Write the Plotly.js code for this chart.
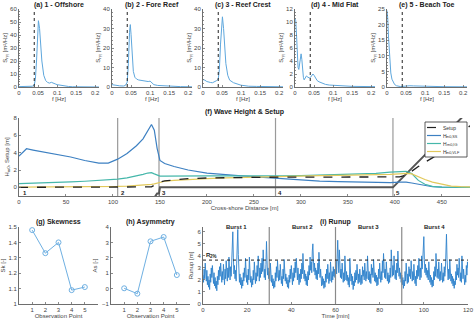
<!DOCTYPE html>
<html>
<head>
<meta charset="utf-8">
<script src="https://cdn.plot.ly/plotly-3.0.1.min.js"></script>
<style>
  html, body { margin: 0; padding: 0; background: #fff; }
  #chart { width: 474px; height: 321px; }
</style>
</head>
<body>
<div id="chart"></div>
<script>
// ---------- Wave energy spectra at the five observation points ----------
const specTitles = ['(a) 1 - Offshore', '(b) 2 - Fore Reef', '(c) 3 - Reef Crest', '(d) 4 - Mid Flat', '(e) 5 - Beach Toe'];
const igCutoff = 0.04; // SS / IG separation frequency [Hz]

const freqA = [0, 0.01, 0.02, 0.03, 0.035, 0.04, 0.043, 0.046, 0.049, 0.051, 0.054, 0.057, 0.06, 0.065, 0.07, 0.075, 0.08, 0.085, 0.09, 0.095, 0.1, 0.105, 0.11, 0.12, 0.13, 0.14, 0.16, 0.18, 0.2, 0.21];
const specA = [0.3, 0.3, 0.3, 0.4, 0.6, 1.5, 6, 20, 42, 51, 45, 32, 20, 9, 5, 3.5, 3, 3.6, 3.2, 2.4, 1.8, 1.5, 1.2, 0.8, 0.4, 0.2, 0.1, 0.05, 0.03, 0.02];

const freqB = [0, 0.005, 0.01, 0.02, 0.03, 0.035, 0.04, 0.043, 0.046, 0.048, 0.05, 0.053, 0.056, 0.06, 0.065, 0.07, 0.08, 0.09, 0.095, 0.1, 0.105, 0.11, 0.12, 0.14, 0.16, 0.18, 0.21];
const specB = [1.2, 1.0, 0.8, 0.6, 0.5, 0.8, 2.5, 12, 28, 32, 27, 15, 8, 5, 4, 3.6, 3.2, 2.7, 2.8, 3.0, 2.2, 1.2, 0.8, 0.5, 0.3, 0.2, 0.1];

const freqC = [0, 0.005, 0.01, 0.015, 0.02, 0.025, 0.03, 0.035, 0.04, 0.043, 0.046, 0.049, 0.051, 0.054, 0.057, 0.06, 0.065, 0.07, 0.08, 0.09, 0.1, 0.105, 0.11, 0.12, 0.14, 0.16, 0.18, 0.21];
const specC = [3.8, 3.5, 2.8, 2.4, 2.3, 2.2, 2.6, 3.2, 4, 9, 22, 33, 36, 30, 20, 12, 6, 3.5, 2.2, 1.4, 0.9, 0.8, 0.6, 0.4, 0.3, 0.2, 0.15, 0.1];

const freqD = [0, 0.002, 0.004, 0.006, 0.008, 0.01, 0.012, 0.014, 0.016, 0.018, 0.02, 0.022, 0.024, 0.027, 0.03, 0.034, 0.038, 0.041, 0.044, 0.047, 0.05, 0.054, 0.058, 0.063, 0.07, 0.08, 0.09, 0.1, 0.12, 0.15, 0.21];
const specD = [10.5, 10.2, 8, 5, 3, 2.7, 3.5, 4.6, 5.1, 4.2, 2.6, 1.5, 1.1, 1.4, 1.7, 1.5, 1.4, 1.5, 1.8, 2.0, 1.8, 1.3, 1.0, 0.8, 0.6, 0.4, 0.3, 0.25, 0.15, 0.1, 0.05];

const freqE = [0, 0.002, 0.004, 0.006, 0.008, 0.01, 0.013, 0.016, 0.02, 0.025, 0.03, 0.035, 0.04, 0.05, 0.06, 0.07, 0.08, 0.1, 0.12, 0.15, 0.21];
const specE = [24.5, 22, 16, 11, 7, 4.5, 2.5, 1.5, 0.8, 0.4, 0.2, 0.15, 0.2, 0.35, 0.4, 0.35, 0.3, 0.2, 0.15, 0.1, 0.05];

const specYMax = [60, 40, 40, 12, 25];
const specYStep = [10, 10, 10, 2, 5];

// ---------- Cross-shore wave height and setup ----------
const crossX = [0, 4, 8, 15, 25, 40, 55, 70, 85, 95, 105, 115, 125, 132, 137, 141, 144, 147, 150, 155, 165, 180, 200, 220, 240, 260, 280, 300, 320, 340, 360, 380, 395, 405, 412, 418, 425, 432, 440, 450, 460, 470, 480];
const hm0SS  = [3.6, 4.0, 4.45, 4.3, 4.1, 3.8, 3.5, 3.1, 2.8, 2.8, 3.25, 3.9, 4.8, 5.6, 6.6, 7.25, 6.6, 4.5, 3.1, 2.75, 2.4, 2.0, 1.65, 1.45, 1.3, 1.15, 1.0, 0.85, 0.72, 0.65, 0.6, 0.55, 0.55, 0.6, 0.6, 0.5, 0.35, 0.2, 0.07, 0.02, 0, 0, 0];
const hm0IG  = [0.42, 0.43, 0.45, 0.47, 0.5, 0.55, 0.62, 0.7, 0.8, 0.88, 0.95, 1.1, 1.3, 1.5, 1.65, 1.7, 1.55, 1.4, 1.3, 1.3, 1.32, 1.33, 1.33, 1.32, 1.3, 1.3, 1.32, 1.35, 1.4, 1.45, 1.5, 1.6, 1.75, 1.85, 1.85, 1.6, 0.8, 0.35, 0.12, 0.03, 0, 0, 0];
const hm0VLF = [0.02, 0.02, 0.03, 0.03, 0.04, 0.05, 0.06, 0.07, 0.08, 0.09, 0.1, 0.15, 0.2, 0.25, 0.3, 0.35, 0.4, 0.5, 0.6, 0.7, 0.8, 0.9, 1.0, 1.08, 1.15, 1.2, 1.25, 1.3, 1.35, 1.38, 1.4, 1.45, 1.5, 1.55, 1.6, 1.55, 1.2, 0.9, 0.6, 0.35, 0.15, 0.08, 0.05];
const setup  = [0, 0, 0, 0, 0, 0, 0, 0, 0, 0, 0, 0, 0, 0, 0, 0.05, 0.25, 0.45, 0.62, 0.75, 0.88, 1.0, 1.08, 1.12, 1.15, 1.17, 1.18, 1.18, 1.19, 1.19, 1.2, 1.2, 1.2, 1.2, 1.4, 1.9, 2.4, 2.9, 3.4, 4.2, 5.1, 6.1, 7.1];

const bedX = [144, 147, 149, 150, 398, 480];
const bedZ = [-1.2, -0.7, -0.7, 0, 0, 9.0];

const obsPoints = [0, 105, 149, 273, 398];
const obsLabels = ['1', '2', '3', '4', '5'];
const obsLabelX = [6, 111, 154, 278, 403];

// ---------- Skewness and asymmetry ----------
const obsIndex = [1, 2, 3, 4, 5];
const skewness = [1.48, 1.33, 1.40, 1.09, 1.11];
const asymmetry = [0.02, -0.33, 3.07, 3.35, 0.88];

// ---------- Runup time series (one sample every 0.25 min) ----------
const runupStep = 0.25;
const runup = [
  2.4,1.8,2.9,2.1,3.4,2.6,1.9,2.8,1.6,2.3,1.4,2.0,1.2,2.5,1.8,3.0,2.2,3.2,2.4,1.7,
  2.6,1.5,2.2,1.3,1.9,1.1,2.3,1.6,2.8,2.0,3.1,2.3,3.4,2.5,1.8,2.7,2.0,3.3,2.4,1.6,
  2.9,2.1,3.6,2.6,1.9,3.0,2.2,3.9,2.8,2.0,3.1,2.3,3.5,4.6,6.0,3.9,2.5,3.2,2.1,2.8,
  1.9,3.4,4.8,6.2,4.1,2.7,1.8,2.5,1.6,2.2,1.3,2.0,1.5,2.6,1.9,3.0,2.2,3.8,2.6,1.8,
  2.4,1.6,2.9,2.0,3.9,2.7,1.8,2.3,1.4,2.1,1.6,2.8,2.0,3.5,2.4,1.7,2.6,1.9,3.2,2.3,
  4.0,2.8,1.9,3.0,2.2,3.4,2.5,3.8,2.7,4.5,3.1,2.2,2.9,2.0,3.3,5.2,3.6,2.4,3.0,2.1,
  2.7,1.9,3.4,2.5,1.8,2.4,1.5,2.1,1.3,1.9,1.4,2.6,1.9,3.1,2.2,3.6,2.6,1.9,2.8,2.0,
  3.3,2.4,1.7,2.3,1.5,2.9,2.1,3.7,2.7,1.9,2.5,1.7,2.2,1.4,2.0,1.3,2.4,1.8,2.9,2.1,
  3.2,2.3,1.6,2.6,1.9,3.0,2.2,3.5,2.6,3.8,2.8,2.0,3.0,2.2,1.6,2.5,1.8,2.9,2.1,3.4,
  2.5,4.2,3.0,2.1,2.8,1.9,2.5,1.6,2.3,1.5,2.7,2.0,3.2,2.4,3.9,2.8,3.5,2.6,4.4,5.0,
  3.7,2.7,3.4,2.4,3.0,2.1,2.8,2.0,3.4,2.5,4.3,3.1,2.2,2.9,2.0,1.5,2.3,1.6,2.1,1.3,
  1.9,1.4,2.5,1.8,2.9,2.1,3.3,2.4,1.7,2.6,1.9,3.5,2.5,1.8,2.7,2.0,3.1,2.3,2.9,2.2,
  2.8,3.6,2.5,4.1,5.3,3.8,2.6,4.5,3.1,2.2,2.9,2.1,3.4,2.4,1.8,2.6,1.9,4.0,2.8,2.0,
  2.7,1.9,2.4,1.6,2.2,1.4,3.8,2.6,1.9,2.5,1.6,2.3,1.2,1.9,1.5,2.6,1.8,2.8,2.0,3.3,
  2.4,1.7,2.5,1.8,2.9,2.1,1.6,2.4,1.7,3.1,2.3,2.8,2.0,3.4,2.5,1.9,2.7,2.1,4.0,2.8,
  2.0,2.7,1.8,2.5,1.7,3.3,2.4,3.0,2.2,3.7,2.6,1.9,2.6,1.8,2.4,1.5,2.2,1.6,2.9,2.1,
  3.4,2.5,1.8,2.7,2.0,3.6,2.6,4.2,3.0,2.2,2.9,2.1,3.5,2.5,1.9,2.6,1.7,2.4,1.8,3.0,
  2.2,4.5,3.1,2.3,3.2,2.4,4.0,2.9,2.1,2.8,2.0,3.4,2.6,4.4,3.2,2.3,3.0,2.1,2.6,1.8,
  2.4,1.6,2.2,1.3,2.0,1.5,2.7,1.9,3.4,2.4,1.7,2.5,1.8,3.1,2.3,2.9,2.1,3.6,2.6,1.9,
  2.7,2.0,3.3,2.4,1.7,2.3,1.5,2.8,2.1,3.2,2.3,3.8,2.7,2.0,3.0,2.2,4.0,2.9,3.6,4.6,
  5.6,3.7,2.6,3.3,2.4,3.0,2.2,2.8,2.0,3.5,2.5,1.8,2.4,1.6,2.2,1.4,2.0,1.5,2.7,2.0,
  3.1,2.3,4.2,3.0,2.2,2.9,2.1,3.5,2.5,1.9,2.7,2.0,3.4,2.5,1.8,2.6,1.9,3.1,2.3,2.8,
  4.1,5.8,3.8,2.7,2.0,2.9,2.1,3.7,2.6,1.9,2.5,1.7,2.3,1.5,2.1,1.3,1.9,1.6,2.7,2.0,
  3.3,2.4,3.0,2.2,3.8,2.7,1.9,2.6,1.8,4.0,2.8,2.1,2.9,2.0,1.6,2.4,1.8,3.2,2.4,3.5,
  3.0
];
const burstEdges = [30, 60, 90];
const burstNames = ['Burst 1', 'Burst 2', 'Burst 3', 'Burst 4'];
const burstCentres = [15, 45, 75, 105];
const r2Percent = 3.65;

// ---------- Styling ----------
const W = 474, H = 321;
const px = (a, b) => [a / W, b / W];
const py = (top, bottom) => [1 - bottom / H, 1 - top / H];
const AXC = '#6e6e6e';
const FONT = 'Liberation Sans, Arial, sans-serif';
const specColor = '#5ea7dd';
const ssColor = '#3d80c2';
const igColor = '#45b7aa';
const vlfColor = '#e2c95c';
const runupColor = '#2f82cc';
const obsColor = '#6fb0e2';
const boldFont = (size) => ({ size: size, color: '#222', family: FONT, weight: 'bold' });
const plainFont = (size, color) => ({ size: size, color: color || '#444', family: FONT });

// text width measurement, used to set subscripts next to their base letters
const measureCtx = document.createElement('canvas').getContext('2d');
function textWidth(str, size, bold) {
  measureCtx.font = (bold ? 'bold ' : '') + size + 'px "Liberation Sans", Arial, sans-serif';
  return measureCtx.measureText(str).width;
}

function axis(extra) {
  return Object.assign({
    showline: true, linecolor: AXC, linewidth: 1, mirror: false,
    ticks: 'inside', ticklen: 2, tickcolor: AXC, tickwidth: 0.8,
    tickfont: { size: 6, color: '#444', family: FONT },
    showgrid: false, zeroline: false, fixedrange: true, automargin: false
  }, extra);
}
function axTitle(text, standoff) {
  return { text: text, font: plainFont(6), standoff: standoff };
}
function label(text, xref, yref, x, y, font, xanchor) {
  return { text: text, xref: xref, yref: yref, x: x, y: y, showarrow: false,
           font: font, xanchor: xanchor || 'center', yanchor: 'middle' };
}
// Horizontal text built from pieces, starting at x0 px, centred vertically on y px
function horizontalText(pieces, x0, y, bold, color) {
  let x = x0;
  return pieces.map(p => {
    const w = textWidth(p.t, p.size, bold);
    const ann = {
      text: p.t, xref: 'paper', yref: 'paper', showarrow: false,
      x: (x + w / 2) / W, y: 1 - (y + (p.sub ? 1.5 : 0)) / H,
      xanchor: 'center', yanchor: 'middle', borderpad: 0, borderwidth: 0,
      font: Object.assign(plainFont(p.size, color), bold ? { weight: 'bold' } : {})
    };
    x += w;
    return ann;
  });
}

const traces = [];
const layout = {
  width: W, height: H,
  margin: { l: 0, r: 0, t: 0, b: 0 },
  paper_bgcolor: '#fff', plot_bgcolor: 'rgba(0,0,0,0)',
  showlegend: false,
  font: { family: FONT, size: 6, color: '#444' },
  shapes: [], annotations: []
};

// Top row: five spectra
const specFreqs = [freqA, freqB, freqC, freqD, freqE];
const specVals = [specA, specB, specC, specD, specE];
const specLeft = [19, 112, 203, 295, 387];
for (let i = 0; i < 5; i++) {
  const n = i === 0 ? '' : String(i + 1);
  traces.push({
    x: specFreqs[i], y: specVals[i], xaxis: 'x' + n, yaxis: 'y' + n,
    type: 'scatter', mode: 'lines', line: { color: specColor, width: 1 }, hoverinfo: 'skip'
  });
  layout['xaxis' + n] = axis({
    domain: px(specLeft[i], specLeft[i] + 80), anchor: 'y' + n, range: [0, 0.21],
    tickvals: [0, 0.05, 0.1, 0.15, 0.2], ticktext: ['0', '0.05', '0.1', '0.15', '0.2'],
    title: axTitle('f [Hz]', 1)
  });
  layout['yaxis' + n] = axis({
    domain: py(9, 87), anchor: 'x' + n, range: [0, specYMax[i]], dtick: specYStep[i],
    minor: { ticks: 'inside', ticklen: 1.2, tickcolor: AXC, nticks: 5 },
    title: axTitle('S<sub>ηη</sub> [m²/Hz]', 2)
  });
  layout.shapes.push({
    type: 'line', xref: 'x' + n, yref: 'y' + n + ' domain',
    x0: igCutoff, x1: igCutoff, y0: 0, y1: 1,
    line: { color: '#222', width: 1, dash: 'dot' }
  });
  layout.annotations.push(label(specTitles[i], 'paper', 'paper', (specLeft[i] + 40) / W, 1 - 5 / H, boldFont(7)));
}

// Middle: cross-shore profile
traces.push(
  { x: bedX, y: bedZ, xaxis: 'x6', yaxis: 'y6', mode: 'lines', line: { color: '#555', width: 2 }, hoverinfo: 'skip' },
  { x: crossX, y: hm0SS, xaxis: 'x6', yaxis: 'y6', mode: 'lines', line: { color: ssColor, width: 1.2 }, name: 'Hm0,SS' },
  { x: crossX, y: hm0IG, xaxis: 'x6', yaxis: 'y6', mode: 'lines', line: { color: igColor, width: 1.2 }, name: 'Hm0,IG' },
  { x: crossX, y: hm0VLF, xaxis: 'x6', yaxis: 'y6', mode: 'lines', line: { color: vlfColor, width: 1.2 }, name: 'Hm0,VLF' },
  { x: crossX, y: setup, xaxis: 'x6', yaxis: 'y6', mode: 'lines', line: { color: '#222', width: 1.3, dash: 'dash' }, name: 'Setup' }
);
layout.xaxis6 = axis({
  domain: px(19, 470), anchor: 'y6', range: [0, 480], dtick: 50,
  title: axTitle('Cross-shore Distance [m]', 1)
});
layout.yaxis6 = axis({
  domain: py(118, 196), anchor: 'x6', range: [-1, 8], dtick: 2,
  title: axTitle('H<sub>m0</sub>, Setup [m]', 3)
});
obsPoints.forEach((xp, k) => {
  if (k > 0) {
    layout.shapes.push({
      type: 'line', xref: 'x6', yref: 'y6 domain', x0: xp, x1: xp, y0: 0, y1: 1,
      line: { color: '#9a9a9a', width: 1.2 }, layer: 'below'
    });
  }
  layout.annotations.push(label(obsLabels[k], 'x6', 'y6', obsLabelX[k], -0.6, boldFont(6)));
});
layout.annotations.push(label('(f) Wave Height & Setup', 'paper', 'paper', 244.5 / W, 1 - 112 / H, boldFont(7)));

// Legend box for the profile panel
const legBox = { x0: 425, x1: 467, y0: 122, y1: 157 };
layout.shapes.push({
  type: 'rect', xref: 'paper', yref: 'paper',
  x0: legBox.x0 / W, x1: legBox.x1 / W, y0: 1 - legBox.y1 / H, y1: 1 - legBox.y0 / H,
  fillcolor: '#fff', line: { color: '#333', width: 0.8 }, layer: 'above'
});
const legItems = [
  { pieces: [{ t: 'Setup', size: 5 }], color: '#222', dash: 'dash', yp: 127.5 },
  { pieces: [{ t: 'H', size: 5 }, { t: 'm0,SS', size: 3.8, sub: true }], color: ssColor, dash: 'solid', yp: 135.5 },
  { pieces: [{ t: 'H', size: 5 }, { t: 'm0,IG', size: 3.8, sub: true }], color: igColor, dash: 'solid', yp: 143.5 },
  { pieces: [{ t: 'H', size: 5 }, { t: 'm0,VLF', size: 3.8, sub: true }], color: vlfColor, dash: 'solid', yp: 151.5 }
];
legItems.forEach(it => {
  layout.shapes.push({
    type: 'line', xref: 'paper', yref: 'paper',
    x0: 427 / W, x1: 441 / W, y0: 1 - it.yp / H, y1: 1 - it.yp / H,
    line: { color: it.color, width: 1.2, dash: it.dash }, layer: 'above'
  });
  layout.annotations.push(...horizontalText(it.pieces, 443, it.yp, false, '#333'));
});

// Bottom left: skewness and asymmetry
traces.push(
  { x: obsIndex, y: skewness, xaxis: 'x7', yaxis: 'y7', mode: 'lines+markers',
    line: { color: obsColor, width: 1 }, marker: { symbol: 'circle-open', size: 5, color: obsColor, line: { width: 1 } } },
  { x: obsIndex, y: asymmetry, xaxis: 'x8', yaxis: 'y8', mode: 'lines+markers',
    line: { color: obsColor, width: 1 }, marker: { symbol: 'circle-open', size: 5, color: obsColor, line: { width: 1 } } }
);
layout.xaxis7 = axis({ domain: px(19, 98), anchor: 'y7', range: [0, 6], tickvals: obsIndex, title: axTitle('Observation Point', 1) });
layout.yaxis7 = axis({ domain: py(227, 304), anchor: 'x7', range: [1, 1.5], dtick: 0.1, title: axTitle('Sk [-]', 3) });
layout.xaxis8 = axis({ domain: px(111, 190), anchor: 'y8', range: [0, 6], tickvals: obsIndex, title: axTitle('Observation Point', 1) });
layout.yaxis8 = axis({ domain: py(227, 304), anchor: 'x8', range: [-1, 4], dtick: 1, title: axTitle('As [-]', 3) });
layout.annotations.push(
  label('(g) Skewness', 'paper', 'paper', 58.5 / W, 1 - 222 / H, boldFont(7)),
  label('(h) Asymmetry', 'paper', 'paper', 150.5 / W, 1 - 222 / H, boldFont(7))
);

// Bottom right: runup
traces.push({
  y: runup, x0: 0, dx: runupStep, xaxis: 'x9', yaxis: 'y9', mode: 'lines',
  line: { color: runupColor, width: 0.9 }, hoverinfo: 'skip'
});
const runupLeft = 203, runupRight = 468, runupTop = 227, runupBottom = 304, runupYMax = 6.4;
layout.xaxis9 = axis({ domain: px(runupLeft, runupRight), anchor: 'y9', range: [0, 120], dtick: 20, title: axTitle('Time [min]', 1) });
layout.yaxis9 = axis({ domain: py(runupTop, runupBottom), anchor: 'x9', range: [0, runupYMax], dtick: 1, title: axTitle('Runup [m]', 3) });
burstEdges.forEach(t => layout.shapes.push({
  type: 'line', xref: 'x9', yref: 'y9 domain', x0: t, x1: t, y0: 0, y1: 1,
  line: { color: '#8a8a8a', width: 1.2 }
}));
layout.shapes.push({
  type: 'line', xref: 'x9 domain', yref: 'y9', x0: 0, x1: 1, y0: r2Percent, y1: r2Percent,
  line: { color: '#222', width: 1, dash: 'dot' }
});
burstNames.forEach((b, k) => layout.annotations.push(
  label(b, 'x9', 'paper', burstCentres[k], 1 - 226.5 / H, boldFont(6))));
// R2% label sits just above the dotted line near the left edge
const r2LabelY = runupBottom - (r2Percent + 0.45) / runupYMax * (runupBottom - runupTop);
layout.annotations.push(...horizontalText([{ t: 'R', size: 6 }, { t: '2%', size: 4.5, sub: true }], runupLeft + 3, r2LabelY, true, '#222'));
layout.annotations.push(label('(i) Runup', 'paper', 'paper', 335 / W, 1 - 222 / H, boldFont(7)));

Plotly.newPlot('chart', traces, layout, { staticPlot: true, displayModeBar: false });
</script>
</body>
</html>
